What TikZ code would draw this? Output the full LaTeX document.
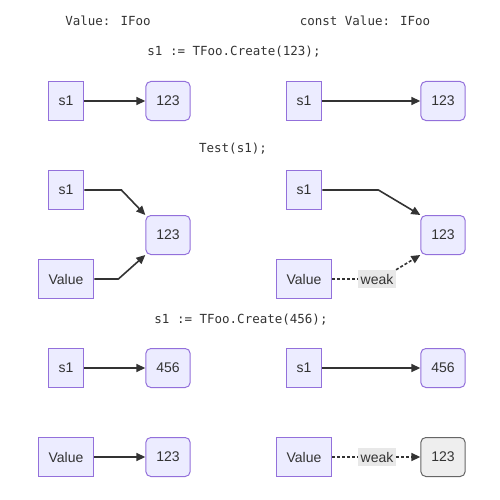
\documentclass[tikz,border=0pt]{standalone}
\usepackage{fontspec}
\setmainfont{Liberation Sans}
\newfontfamily\codefont{DejaVu Sans Mono}
\usetikzlibrary{arrows.meta}
\definecolor{boxfill}{HTML}{ECECFF}
\definecolor{boxline}{HTML}{9370DB}
\definecolor{edgecol}{HTML}{333333}
\definecolor{weakfill}{HTML}{E8E8E8}
\definecolor{deadfill}{HTML}{EEEEEE}
\definecolor{deadline}{HTML}{666666}

\begin{document}
\begin{tikzpicture}[x=1pt,y=-1pt,
  var/.style={draw=boxline,fill=boxfill,line width=1pt,text=edgecol,font=\fontsize{14}{17}\selectfont,inner xsep=10.5pt,minimum height=39pt},
  obj/.style={var,rounded corners=5pt},
  dead/.style={obj,draw=deadline,fill=deadfill},
  weaklbl/.style={fill=weakfill,text=edgecol,font=\fontsize{14}{17}\selectfont,inner xsep=2.5pt,inner ysep=0pt,minimum height=18pt},
  code/.style={text=edgecol,font=\codefont\fontsize{12.5}{15}\selectfont},
  ref/.style={draw=edgecol,line width=1.6pt,-{Triangle[length=9pt,width=8pt]}},
  weakref/.style={ref,dash pattern=on 3pt off 2pt}]
\useasboundingbox (0,0) rectangle (500,500);

\node [code] (tleft) at (108,21) {Value: IFoo};
\node [code] (tright) at (365,21) {const Value: IFoo};
\node [code] (create1) at (234,52) {s1 := TFoo.Create(123);};
\node [code] (test) at (233,149) {Test(s1);};
\node [code] (create2) at (241,320) {s1 := TFoo.Create(456);};

\node [var] (a1) at (66,101) {s1};
\node [obj] (a2) at (168,101) {123};
\node [var] (b1) at (304,101) {s1};
\node [obj] (b2) at (443,101) {123};
\draw [ref] (a1) -- (a2);
\draw [ref] (b1) -- (b2);

\node [var] (c1) at (66,190) {s1};
\node [obj] (c2) at (168,235) {123};
\node [var] (c3) at (66,279) {Value};
\draw [ref] (c1.east) -- ++(37,0) -- (c2.north west);
\draw [ref] (c3.east) -- ++(24,0) -- (c2.south west);

\node [var] (d1) at (304,190) {s1};
\node [obj] (d2) at (443,235) {123};
\node [var] (d3) at (304,279) {Value};
\node [weaklbl] (dw) at (377,279) {weak};
\draw [ref] (d1.east) -- ++(56,0) -- (d2.north west);
\draw [weakref,-] (d3.east) -- (dw.west);
\draw [weakref] (dw.north east) -- (d2.south west);

\node [var] (e1) at (66,368) {s1};
\node [obj] (e2) at (168,368) {456};
\node [var] (f1) at (304,368) {s1};
\node [obj] (f2) at (443,368) {456};
\draw [ref] (e1) -- (e2);
\draw [ref] (f1) -- (f2);

\node [var] (g1) at (66,457) {Value};
\node [obj] (g2) at (168,457) {123};
\node [var] (h1) at (304,457) {Value};
\node [weaklbl] (hw) at (377,457) {weak};
\node [dead] (h2) at (443,457) {123};
\draw [ref] (g1) -- (g2);
\draw [weakref,-] (h1) -- (hw);
\draw [weakref] (hw) -- (h2);
\end{tikzpicture}
\end{document}
